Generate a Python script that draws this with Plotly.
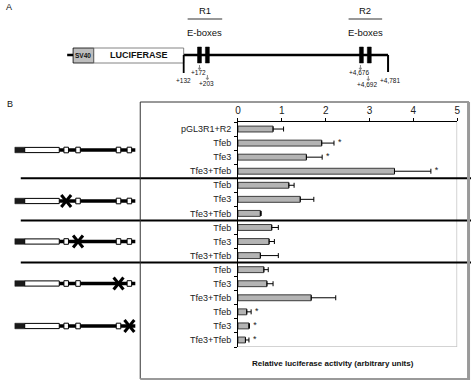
import plotly.graph_objects as go

W, H = 474, 381

labels = ["pGL3R1+R2", "Tfeb", "Tfe3", "Tfe3+Tfeb",
          "Tfeb", "Tfe3", "Tfe3+Tfeb",
          "Tfeb", "Tfe3", "Tfe3+Tfeb",
          "Tfeb", "Tfe3", "Tfe3+Tfeb",
          "Tfeb", "Tfe3", "Tfe3+Tfeb"]
values = [0.80, 1.91, 1.56, 3.57,
          1.16, 1.42, 0.51,
          0.77, 0.71, 0.51,
          0.59, 0.66, 1.67,
          0.20, 0.25, 0.17]
errors = [0.24, 0.28, 0.36, 0.83,
          0.12, 0.31, 0.02,
          0.15, 0.12, 0.41,
          0.10, 0.14, 0.56,
          0.10, 0.01, 0.08]
significant = [False, True, True, True,
               False, False, False,
               False, False, False,
               False, False, False,
               True, True, True]
x_ticks = [0, 1, 2, 3, 4, 5]
group_breaks = [3.5, 6.5, 9.5]
# mutated E-box index for each construct, None = wild type
construct_mut = [None, 0, 1, 2, 3]

FONT = "Liberation Sans, Arial, sans-serif"
pos = list(range(len(labels)))


def px(x):
    return x / W


def py(y):
    return 1 - y / H


fig = go.Figure()
fig.add_trace(go.Bar(
    x=values, y=pos, orientation="h", width=0.42,
    marker=dict(color="#b4b4b4", line=dict(color="#2a2a2a", width=0.9)),
    error_x=dict(type="data", symmetric=False, array=errors,
                 arrayminus=[0] * len(errors), color="black",
                 thickness=1, width=2.5),
    showlegend=False, hoverinfo="skip"))

star_x = [v + e + 0.13 for v, e, s in zip(values, errors, significant) if s]
star_y = [p for p, s in zip(pos, significant) if s]
fig.add_trace(go.Scatter(
    x=star_x, y=star_y, mode="text", text=["*"] * len(star_x),
    textfont=dict(family=FONT, size=9, color="#222"),
    textposition="middle center", showlegend=False, hoverinfo="skip", cliponaxis=False))

shapes = []
ann = []

# plot area light-gray right and bottom borders
shapes.append(dict(type="line", xref="x", yref="y", x0=5, x1=5, y0=-0.5, y1=15.5,
                   line=dict(color="#c4c4c4", width=1.5)))
shapes.append(dict(type="line", xref="x", yref="y", x0=0, x1=5, y0=15.5, y1=15.5,
                   line=dict(color="#c4c4c4", width=1.5)))

# group separators
for b in group_breaks:
    shapes.append(dict(type="line", xref="paper", yref="y", x0=px(18), x1=1, y0=b, y1=b,
                       line=dict(color="black", width=2)))

# outer frame of panel B
shapes.append(dict(type="line", xref="paper", yref="paper", x0=px(139), x1=px(139),
                   y0=py(102), y1=py(379), line=dict(color="#333", width=1)))
shapes.append(dict(type="line", xref="paper", yref="paper", x0=px(139), x1=px(472),
                   y0=py(102), y1=py(102), line=dict(color="#333", width=1)))
shapes.append(dict(type="line", xref="paper", yref="paper", x0=px(471.5), x1=px(471.5),
                   y0=py(102), y1=py(380), line=dict(color="#9a9a9a", width=3)))
shapes.append(dict(type="line", xref="paper", yref="paper", x0=px(139), x1=px(473),
                   y0=py(379), y1=py(379), line=dict(color="#9a9a9a", width=2)))


def rect(x0, x1, y0, y1, fill, lc="black", lw=1):
    shapes.append(dict(type="rect", xref="paper", yref="paper", x0=px(x0), x1=px(x1),
                       y0=py(y1), y1=py(y0), fillcolor=fill, line=dict(color=lc, width=lw)))


def line(x0, y0, x1, y1, color="black", w=1):
    shapes.append(dict(type="line", xref="paper", yref="paper", x0=px(x0), x1=px(x1),
                       y0=py(y0), y1=py(y1), line=dict(color=color, width=w)))


def text(x, y, s, size, bold=False, color="#111", xa="center"):
    if bold:
        s = "<b>" + s + "</b>"
    ann.append(dict(x=px(x), y=py(y), xref="paper", yref="paper", text=s, showarrow=False,
                    xanchor=xa, yanchor="middle", font=dict(family=FONT, size=size, color=color)))


# ---------- Panel A schematic ----------
text(1, 7, "A", 9, xa="left")
line(65, 55, 390, 55, w=2.5)
rect(71, 92, 48, 63, "#bdbdbd", lw=0.8)
rect(92, 183, 48, 63, "white", lc="#666", lw=0.8)
text(81.5, 55.5, "SV40", 6.5, bold=True)
text(137.5, 55.5, "LUCIFERASE", 9, bold=True)
line(183, 55, 183, 73, w=1.8)
text(183, 80, "+132", 6.5)
for xb in (199, 207, 363, 371):
    rect(xb - 2, xb + 2, 47, 63, "black", lw=0.5)
line(390, 55, 390, 72, w=2)
text(392, 80, "+4,781", 6.5)
# small arrows
for (xa_, ya_, lab, ly) in [(199, 65, "+172", 72), (207, 75, "+203", 83),
                           (362, 65, "+4,676", 72), (370, 76, "+4,692", 84)]:
    line(xa_, ya_, xa_, ya_ + 3, color="#888", w=1)
    shapes.append(dict(type="path", xref="paper", yref="paper",
                       path=f"M {px(xa_-1.5)},{py(ya_+3)} L {px(xa_+1.5)},{py(ya_+3)} L {px(xa_)},{py(ya_+5)} Z",
                       fillcolor="#888", line=dict(color="#888", width=0.5)))
    text(xa_ - 1, ly, lab, 6.5)
for (x0, x1, lab) in [(187, 222, "R1"), (350, 384, "R2")]:
    line(x0, 19, x1, 19, color="#333", w=1.2)
    text((x0 + x1) / 2, 10, lab, 9.5)
    text((x0 + x1) / 2, 33, "E-boxes", 9.5)

# ---------- Panel B constructs ----------
text(2, 104, "B", 9, xa="left")
construct_y = [150, 201, 241.5, 283.5, 326]
box_x = [64, 76, 117, 128]
for cy, mut in zip(construct_y, construct_mut):
    line(13, cy, 134, cy, w=3.5)
    shapes.append(dict(type="rect", xref="paper", yref="paper", x0=px(12), x1=px(22),
                       y0=py(cy + 2.8), y1=py(cy - 2.8), fillcolor="#1a1a1a",
                       line=dict(color="#1a1a1a", width=0.5)))
    rect(22, 57, cy - 2.6, cy + 2.6, "white", lw=1)
    for i, bx in enumerate(box_x):
        if mut == i:
            continue
        rect(bx - 2.3, bx + 2.3, cy - 2.8, cy + 2.8, "white", lw=1)
    if mut is not None:
        mx = box_x[mut]
        line(mx - 5, cy - 6, mx + 5, cy + 6, w=3)
        line(mx - 5, cy + 6, mx + 5, cy - 6, w=3)

# axis title
text(334, 363, "Relative luciferase activity (arbitrary units)", 8, bold=True)

fig.update_layout(
    width=W, height=H, margin=dict(l=0, r=0, t=0, b=0),
    paper_bgcolor="white", plot_bgcolor="white",
    shapes=shapes, annotations=ann, bargap=0.5,
    xaxis=dict(domain=[px(238), px(460)], range=[0, 5], side="top",
               tickvals=x_ticks, ticktext=[str(t) for t in x_ticks],
               ticks="outside", ticklen=3, tickcolor="black", showgrid=False,
               showline=True, linecolor="black", linewidth=1, zeroline=False,
               tickfont=dict(family=FONT, size=10, color="#222"), fixedrange=True),
    yaxis=dict(domain=[py(347), py(122)], range=[15.5, -0.5],
               tickmode="array", tickvals=pos, ticktext=labels,
               ticks="outside", ticklen=4, tickcolor="rgba(0,0,0,0)",
               minor=dict(tickmode="array", tickvals=[i - 0.5 for i in range(17)],
                          ticks="outside", ticklen=3, tickcolor="black"),
               showgrid=False, showline=True, linecolor="black", linewidth=1,
               zeroline=False, tickfont=dict(family=FONT, size=9, color="#222"),
               fixedrange=True),
    font=dict(family=FONT),
)

fig.write_html("out.html", config={"displayModeBar": False},
               post_script="document.body.style.margin='0px';document.body.style.overflow='hidden';")
